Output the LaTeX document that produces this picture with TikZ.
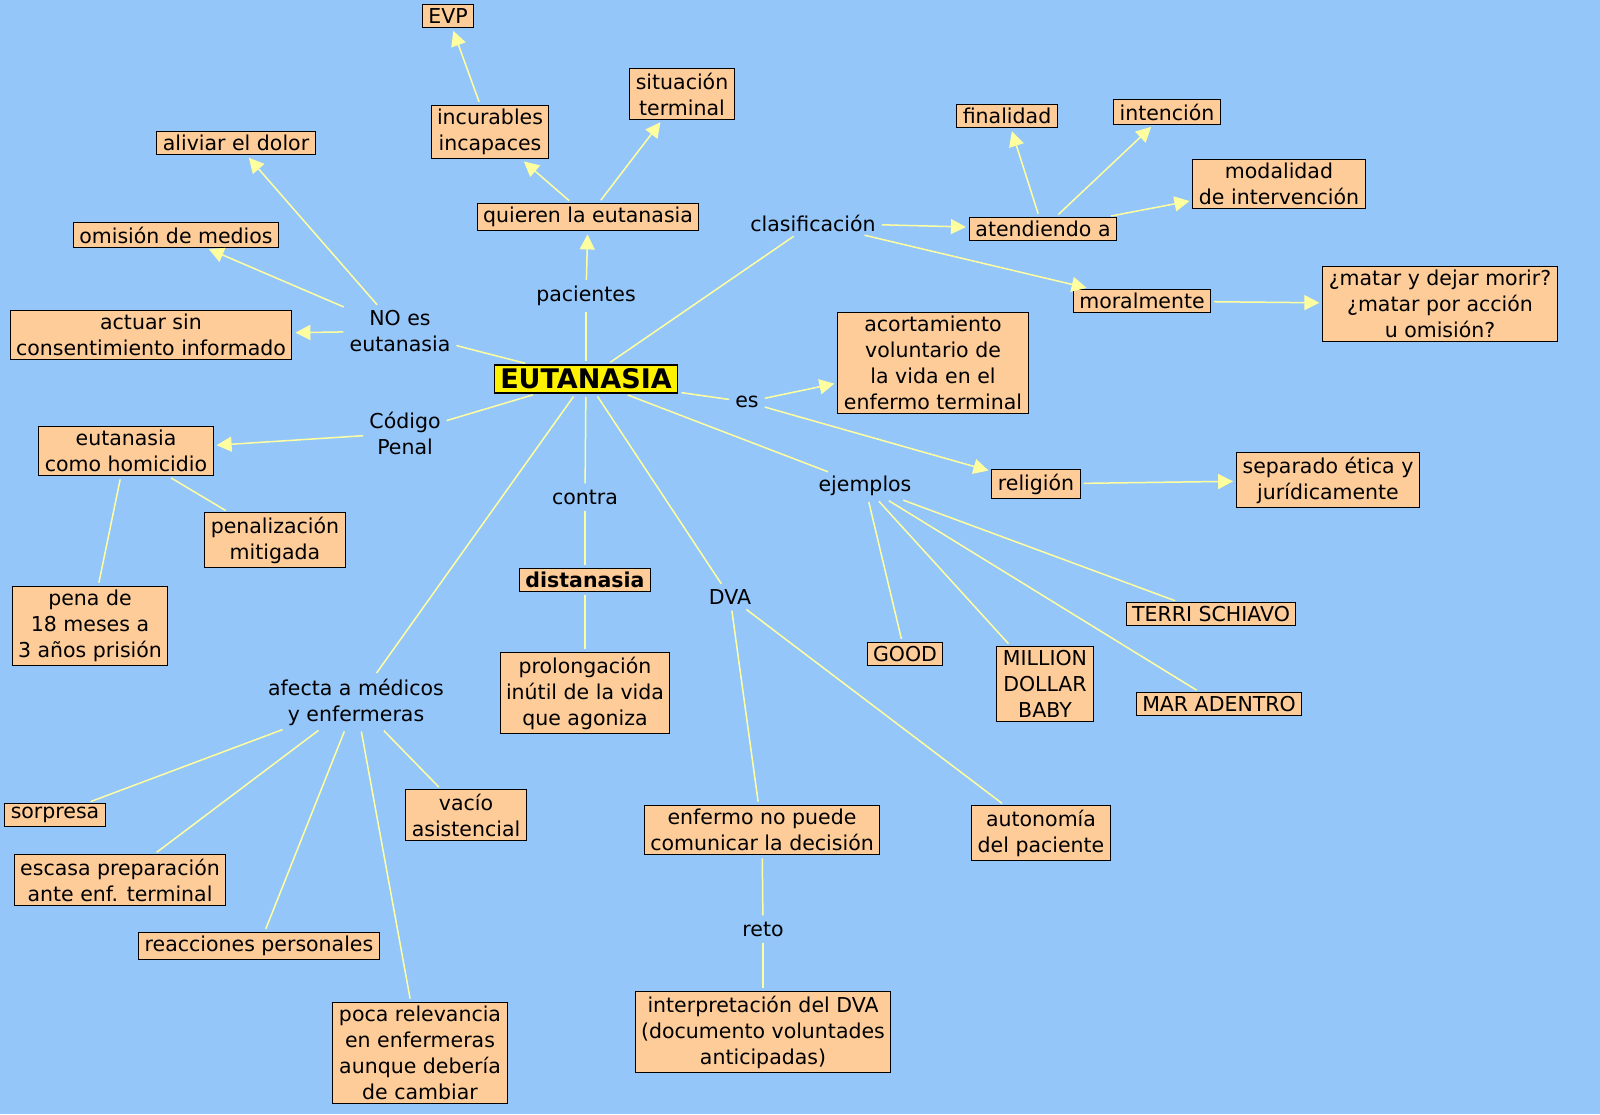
\documentclass[tikz,border=0pt]{standalone}
\usepackage{fontspec}
\setmainfont{DejaVu Sans}
\usetikzlibrary{arrows.meta}
\definecolor{bg}{RGB}{148,198,250}
\definecolor{peach}{RGB}{254,204,153}
\definecolor{ln}{RGB}{255,255,160}
\tikzset{
 cbox/.style={draw=black,line width=1pt,fill=peach,align=center,inner xsep=6pt,inner ysep=4pt,font=\fontsize{20.5}{26}\selectfont},
 lph/.style={align=center,inner sep=3pt,font=\fontsize{20.5}{26}\selectfont},
 cl/.style={ln,line width=1.5pt,shorten <=3pt,shorten >=3pt},
 ca/.style={cl,-{Triangle[length=15pt,width=15pt,fill=ln]}},
}
\begin{document}
\begin{tikzpicture}[x=1pt,y=-1pt]
\fill[bg] (0,0) rectangle (1600,1114);
% concepts
\node[cbox,fill=yellow,font=\fontsize{27}{30}\selectfont\bfseries,line width=1.5pt] (eu) at (586,379) {EUTANASIA};
\node[cbox] (evp) at (448,16) {EVP};
\node[cbox] (inc) at (490,132) {incurables\\incapaces};
\node[cbox] (sit) at (682,94) {situación\\terminal};
\node[cbox] (qui) at (588,217) {quieren la eutanasia};
\node[cbox] (ali) at (236,143) {aliviar el dolor};
\node[cbox] (omi) at (176,235) {omisión de medios};
\node[cbox] (act) at (151,335) {actuar sin\\consentimiento informado};
\node[cbox] (fin) at (1007,116) {finalidad};
\node[cbox] (int) at (1167,112) {intención};
\node[cbox] (mod) at (1279,184) {modalidad\\de intervención};
\node[cbox] (ate) at (1043,229) {atendiendo a};
\node[cbox] (mor) at (1142,301) {moralmente};
\node[cbox] (mat) at (1440,304) {¿matar y dejar morir?\\¿matar por acción\\u omisión?};
\node[cbox] (aco) at (933,363) {acortamiento\\voluntario de\\la vida en el\\enfermo terminal};
\node[cbox] (rel) at (1036,484) {religión};
\node[cbox] (sep) at (1328,480) {separado ética y\\jurídicamente};
\node[cbox] (hom) at (126,451) {eutanasia\\como homicidio};
\node[cbox] (pen) at (275,540) {penalización\\mitigada};
\node[cbox] (pna) at (90,626) {pena de\\18 meses a\\3 años prisión};
\node[cbox,font=\fontsize{20.5}{26}\selectfont\bfseries] (dis) at (585,580) {distanasia};
\node[cbox] (pro) at (585,693) {prolongación\\inútil de la vida\\que agoniza};
\node[cbox] (ter) at (1211,614) {TERRI SCHIAVO};
\node[cbox] (goo) at (905,654) {GOOD};
\node[cbox] (mil) at (1045,684) {MILLION\\DOLLAR\\BABY};
\node[cbox] (mar) at (1219,704) {MAR ADENTRO};
\node[cbox] (sor) at (55,815) {sorpresa};
\node[cbox] (esc) at (120,880) {escasa preparación\\ante enf. terminal};
\node[cbox] (vac) at (466,815) {vacío\\asistencial};
\node[cbox] (rea) at (259,946) {reacciones personales};
\node[cbox] (poc) at (420,1053) {poca relevancia\\en enfermeras\\aunque debería\\de cambiar};
\node[cbox] (enf) at (762,830) {enfermo no puede\\comunicar la decisión};
\node[cbox] (aut) at (1041,833) {autonomía\\del paciente};
\node[cbox] (dva) at (763,1032) {interpretación del DVA\\(documento voluntades\\anticipadas)};
% linking phrases
\node[lph] (lpac) at (586,296) {pacientes};
\node[lph] (lno) at (400,331) {NO es\\eutanasia};
\node[lph] (lcla) at (813,223) {clasificación};
\node[lph] (les) at (747,402) {es};
\node[lph] (lcod) at (405,433) {Código\\Penal};
\node[lph] (lcon) at (585,497) {contra};
\node[lph] (leje) at (865,486) {ejemplos};
\node[lph] (ldva) at (730,597) {DVA};
\node[lph] (lafe) at (356,702) {afecta a médicos\\y enfermeras};
\node[lph] (lret) at (763,929) {reto};
% connectors
\draw[cl] (eu) -- (lpac); \draw[ca] (lpac) -- (qui);
\draw[ca] (qui) -- (inc); \draw[ca] (qui) -- (sit); \draw[ca] (inc) -- (evp);
\draw[cl] (eu) -- (lno);
\draw[ca] (lno) -- (ali); \draw[ca] (lno) -- (omi); \draw[ca] (lno) -- (act);
\draw[cl] (eu) -- (lcla);
\draw[ca] (lcla) -- (ate); \draw[ca] (lcla) -- (mor);
\draw[ca] (ate) -- (fin); \draw[ca] (ate) -- (int); \draw[ca] (ate) -- (mod);
\draw[ca] (mor) -- (mat);
\draw[cl] (eu) -- (les); \draw[ca] (les) -- (aco); \draw[ca] (les) -- (rel);
\draw[ca] (rel) -- (sep);
\draw[cl] (eu) -- (lcod); \draw[ca] (lcod) -- (hom);
\draw[cl] (hom) -- (pen); \draw[cl] (hom) -- (pna);
\draw[cl] (eu) -- (lcon); \draw[cl] (lcon) -- (dis); \draw[cl] (dis) -- (pro);
\draw[cl] (eu) -- (leje);
\draw[cl] (leje) -- (ter); \draw[cl] (leje) -- (goo); \draw[cl] (leje) -- (mil); \draw[cl] (leje) -- (mar);
\draw[cl] (eu) -- (ldva); \draw[cl] (ldva) -- (enf); \draw[cl] (ldva) -- (aut);
\draw[cl] (enf) -- (lret); \draw[cl] (lret) -- (dva);
\draw[cl] (eu) -- (lafe);
\draw[cl] (lafe) -- (sor); \draw[cl] (lafe) -- (esc); \draw[cl] (lafe) -- (vac);
\draw[cl] (lafe) -- (rea); \draw[cl] (lafe) -- (poc);
\pgfresetboundingbox
\path[use as bounding box] (0,0) rectangle (1600,1114);
\end{tikzpicture}
\end{document}
